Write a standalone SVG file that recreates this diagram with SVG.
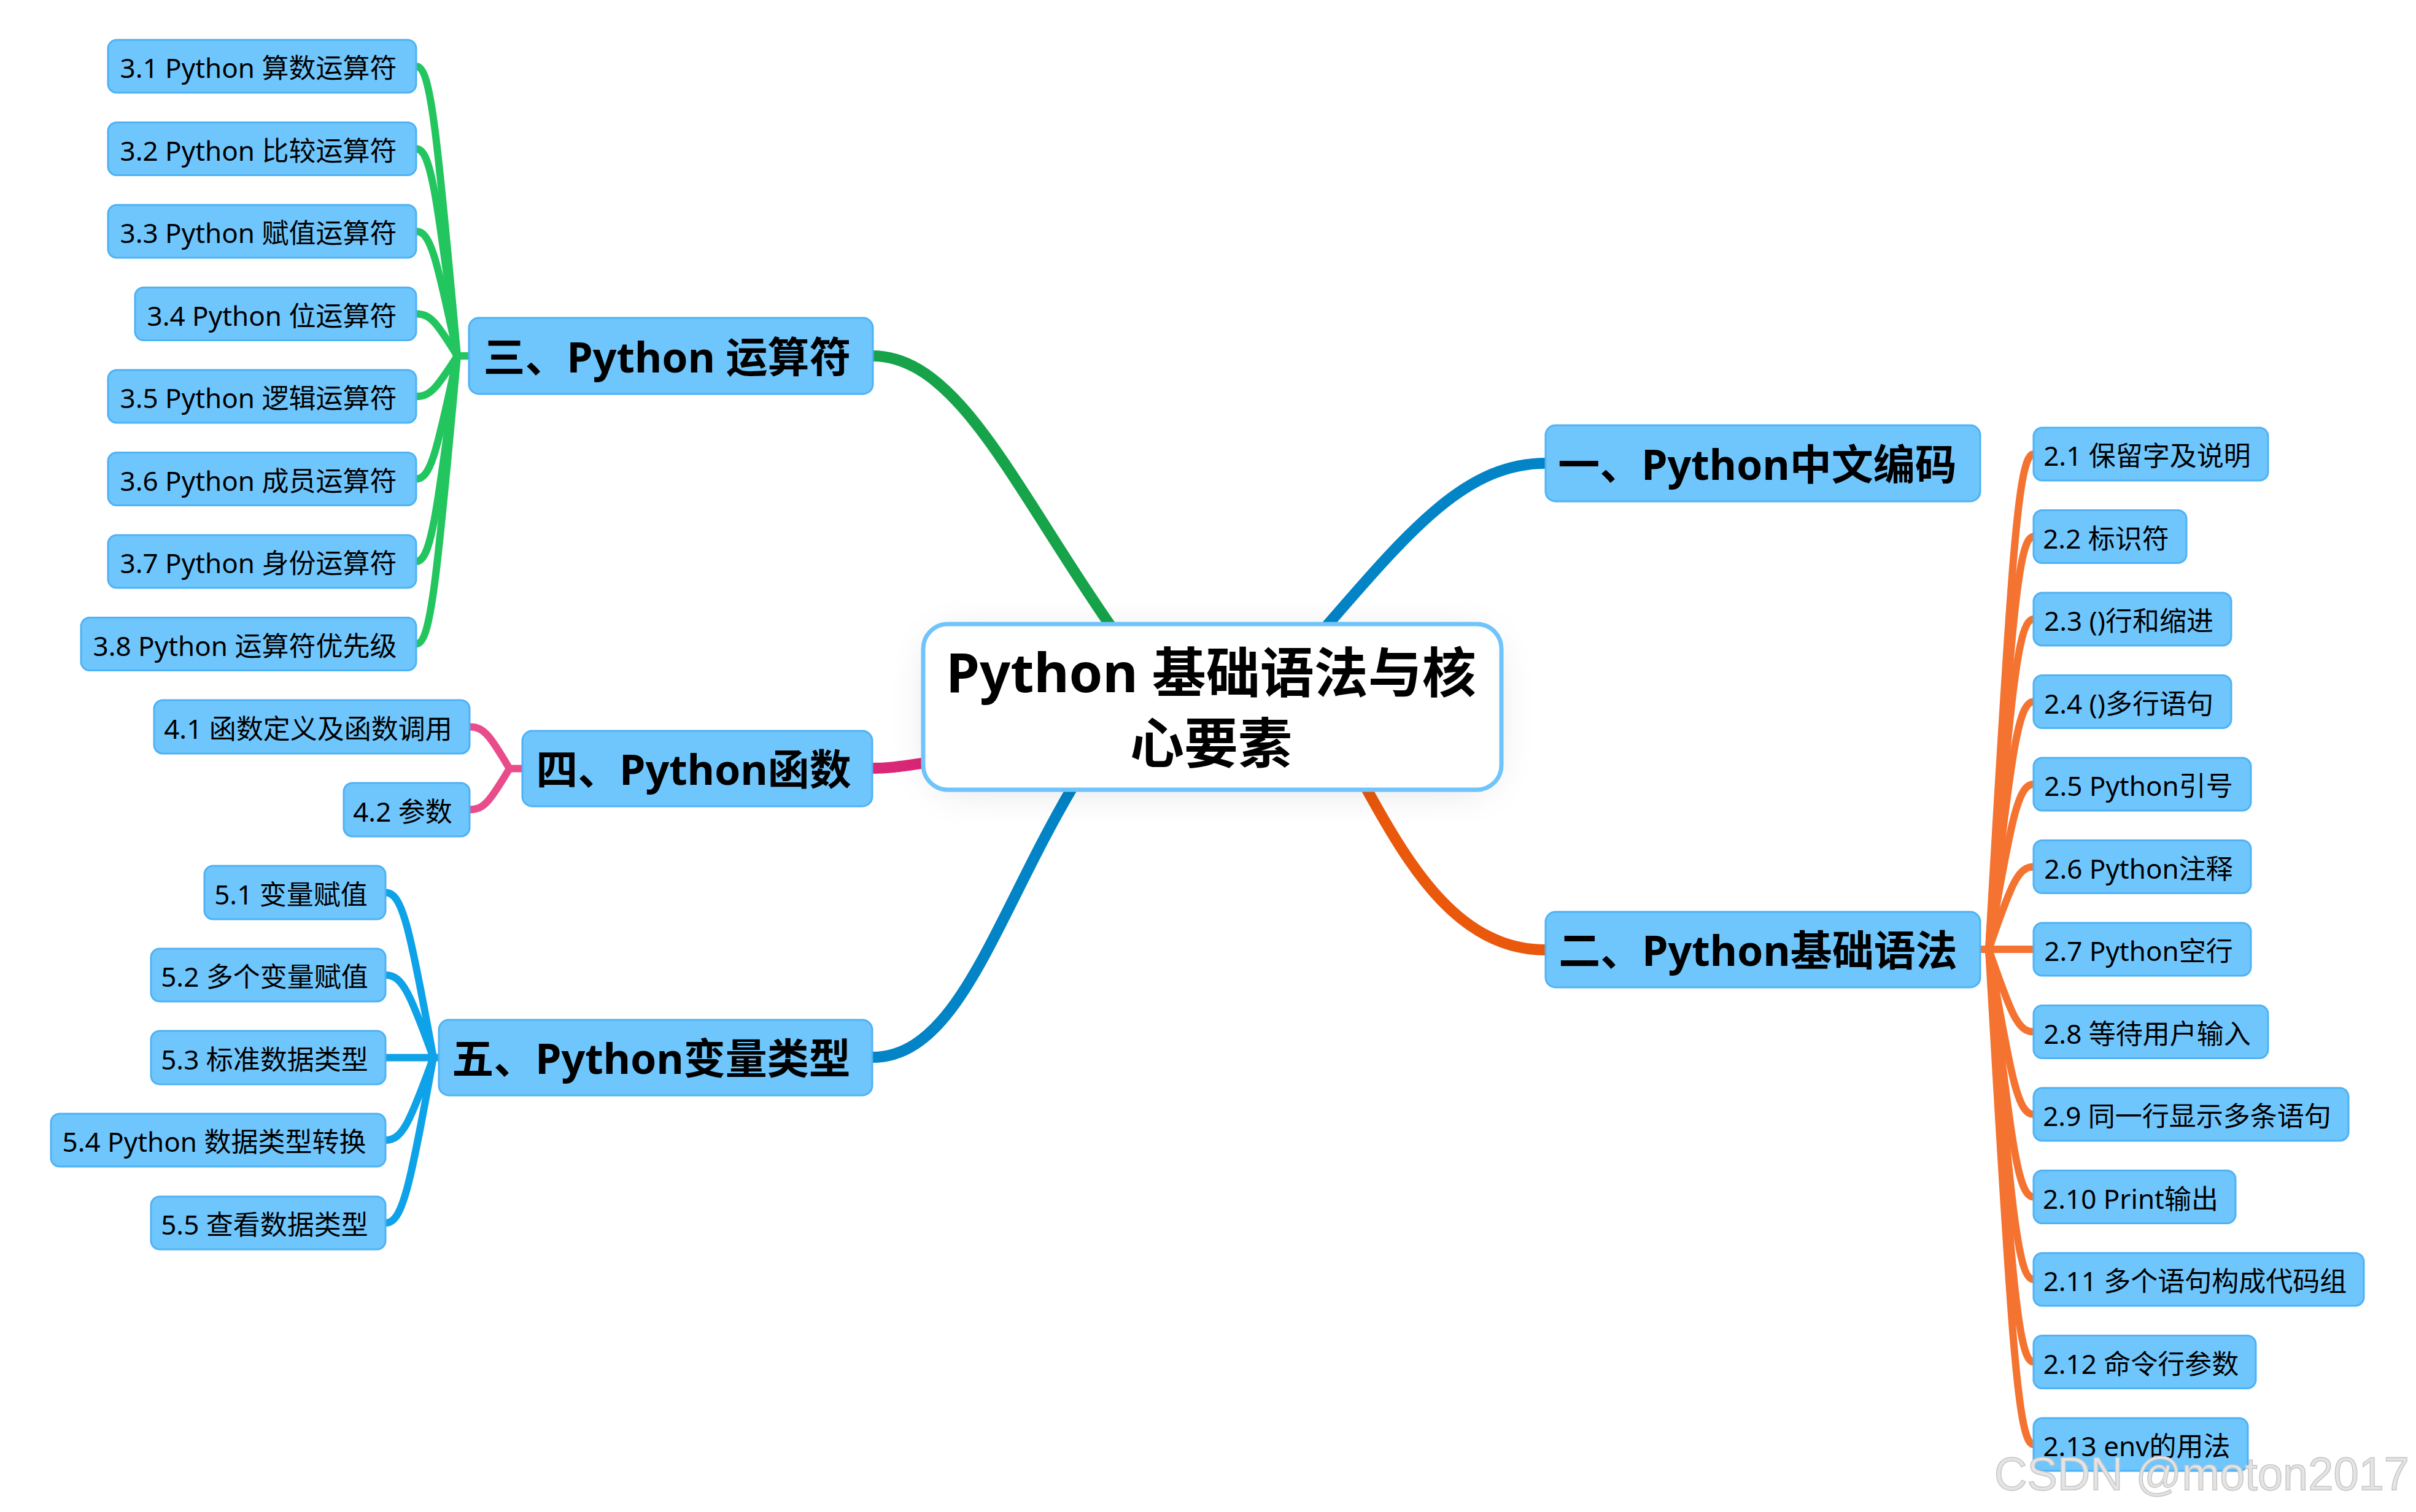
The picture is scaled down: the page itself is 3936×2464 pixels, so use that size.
<svg xmlns="http://www.w3.org/2000/svg" width="3936" height="2464" viewBox="0 0 3936 2464">
<defs>
<style>
.leaf rect{fill:#6FC6FD;stroke:#4FB2F4;stroke-width:3}
.leaf text{font-family:"Noto Sans","Noto Sans CJK SC",sans-serif;font-size:44px;fill:#000;text-anchor:middle}
.branch rect{fill:#6FC6FD;stroke:#4FB2F4;stroke-width:3}
.branch text{font-family:"Noto Sans","Noto Sans CJK SC",sans-serif;font-size:68px;font-weight:bold;fill:#000;text-anchor:middle}
.root rect.box{fill:#fff;stroke:#6EC4FB;stroke-width:7}
.root text{font-family:"Noto Sans","Noto Sans CJK SC",sans-serif;font-size:88px;font-weight:bold;fill:#000;text-anchor:middle}
.main{fill:none;stroke-width:18;stroke-linecap:round}
.sub{fill:none;stroke-width:12;stroke-linecap:round}
.g3{stroke:#22C55E}.g2{stroke:#F57330}.g4{stroke:#E94C8B}.g5{stroke:#0EA2E9}
.wm{font-family:"Liberation Sans",Arial,sans-serif;font-size:76px;fill:#e4e4e4;stroke:#c6c6c6;stroke-width:1.5}
</style>
<filter id="sh" x="-30%" y="-60%" width="160%" height="220%">
<feGaussianBlur stdDeviation="35"/>
</filter>
</defs>
<rect width="3936" height="2464" fill="#fff"/>

<g id="connectors">
<!-- main branches -->
<path class="main" stroke="#16A34A" d="M1421,580 C1560,580 1650,790 1808,1018 L1850,1080"/>
<path class="main" stroke="#0284C7" d="M2518,755 C2390,755 2300,860 2163,1018 L2120,1070"/>
<path class="main" stroke="#EA580C" d="M2518,1548 C2380,1548 2300,1420 2226,1285 L2200,1240"/>
<path class="main" stroke="#DB2777" d="M1421,1252 C1455,1252 1470,1248 1530,1240"/>
<path class="main" stroke="#0284C7" d="M1421,1723 C1560,1723 1620,1500 1745,1287 L1765,1250"/>
<!-- branch 3 children -->
<g class="sub g3">
<path d="M678,108 C701,108 711,202 745,580"/>
<path d="M678,242.5 C701,242.5 711,310 745,580"/>
<path d="M678,377 C701,377 711,418 745,580"/>
<path d="M678,511.5 C701,511.5 711,525 745,580"/>
<path d="M678,646 C701,646 711,633 745,580"/>
<path d="M678,780.5 C701,780.5 711,740 745,580"/>
<path d="M678,915 C701,915 711,848 745,580"/>
<path d="M678,1049.5 C701,1049.5 711,956 745,580"/>
<path d="M745,580 L764,580"/>
</g>
<!-- branch 2 children -->
<g class="sub g2">
<path d="M3313,740 C3288,740 3277,902 3240,1547"/>
<path d="M3313,874.5 C3288,874.5 3277,1009 3240,1547"/>
<path d="M3313,1009 C3288,1009 3277,1117 3240,1547"/>
<path d="M3313,1143.5 C3288,1143.5 3277,1224 3240,1547"/>
<path d="M3313,1278 C3288,1278 3277,1332 3240,1547"/>
<path d="M3313,1412.5 C3288,1412.5 3277,1439 3240,1547"/>
<path d="M3313,1547 L3226,1547"/>
<path d="M3313,1681.5 C3288,1681.5 3277,1655 3240,1547"/>
<path d="M3313,1816 C3288,1816 3277,1762 3240,1547"/>
<path d="M3313,1950.5 C3288,1950.5 3277,1870 3240,1547"/>
<path d="M3313,2085 C3288,2085 3277,1977 3240,1547"/>
<path d="M3313,2219.5 C3288,2219.5 3277,2085 3240,1547"/>
<path d="M3313,2354 C3288,2354 3277,2193 3240,1547"/>
</g>
<!-- branch 4 children -->
<g class="sub g4">
<path d="M765,1184.5 C788,1184.5 798,1198 830,1252.5"/>
<path d="M765,1319.5 C788,1319.5 798,1306 830,1252.5"/>
<path d="M830,1252.5 L851,1252.5"/>
</g>
<!-- branch 5 children -->
<g class="sub g5">
<path d="M628,1454.5 C655,1454.5 667,1508 706,1723.5"/>
<path d="M628,1589 C655,1589 667,1616 706,1723.5"/>
<path d="M628,1723.5 L715,1723.5"/>
<path d="M628,1858 C655,1858 667,1831 706,1723.5"/>
<path d="M628,1993 C655,1993 667,1939 706,1723.5"/>
</g>
</g>

<g id="root" class="root">
<rect x="1520" y="1040" width="910" height="240" rx="40" fill="#000" opacity="0.14" filter="url(#sh)"/>
<rect class="box" x="1504" y="1017" width="942" height="270" rx="40"/>
<text x="1973" y="1128">Python 基础语法与核</text>
<text x="1973" y="1243">心要素</text>
</g>

<g id="b1" class="branch"><rect x="2518" y="693" width="708" height="124" rx="16"/><text x="2863" y="782">一、Python中文编码</text></g>
<g id="b2" class="branch"><rect x="2518" y="1486" width="708" height="123" rx="16"/><text x="2864" y="1574">二、Python基础语法</text></g>
<g id="b3" class="branch"><rect x="764" y="518" width="658" height="124" rx="16"/><text x="1087" y="607">三、Python 运算符</text></g>
<g id="b4" class="branch"><rect x="851" y="1191" width="570" height="123" rx="16"/><text x="1130" y="1279">四、Python函数</text></g>
<g id="b5" class="branch"><rect x="715" y="1662" width="706" height="123" rx="16"/><text x="1061" y="1750">五、Python变量类型</text></g>

<g id="n31" class="leaf"><rect x="176" y="65" width="502" height="86" rx="14"/><text x="421" y="127">3.1 Python 算数运算符</text></g>
<g id="n32" class="leaf"><rect x="176" y="199.5" width="502" height="86" rx="14"/><text x="421" y="261.5">3.2 Python 比较运算符</text></g>
<g id="n33" class="leaf"><rect x="176" y="334" width="502" height="86" rx="14"/><text x="421" y="396">3.3 Python 赋值运算符</text></g>
<g id="n34" class="leaf"><rect x="220" y="468.5" width="458" height="86" rx="14"/><text x="443" y="530.5">3.4 Python 位运算符</text></g>
<g id="n35" class="leaf"><rect x="176" y="603" width="502" height="86" rx="14"/><text x="421" y="665">3.5 Python 逻辑运算符</text></g>
<g id="n36" class="leaf"><rect x="176" y="737.5" width="502" height="86" rx="14"/><text x="421" y="799.5">3.6 Python 成员运算符</text></g>
<g id="n37" class="leaf"><rect x="176" y="872" width="502" height="86" rx="14"/><text x="421" y="934">3.7 Python 身份运算符</text></g>
<g id="n38" class="leaf"><rect x="132" y="1006.5" width="546" height="86" rx="14"/><text x="399" y="1068.5">3.8 Python 运算符优先级</text></g>

<g id="n41" class="leaf"><rect x="251" y="1141" width="514" height="87" rx="14"/><text x="502" y="1203.5">4.1 函数定义及函数调用</text></g>
<g id="n42" class="leaf"><rect x="560" y="1276" width="205" height="87" rx="14"/><text x="656" y="1338.5">4.2 参数</text></g>

<g id="n51" class="leaf"><rect x="333" y="1411" width="295" height="87" rx="14"/><text x="474" y="1473.5">5.1 变量赋值</text></g>
<g id="n52" class="leaf"><rect x="246" y="1546" width="382" height="86" rx="14"/><text x="431" y="1608">5.2 多个变量赋值</text></g>
<g id="n53" class="leaf"><rect x="246" y="1680" width="382" height="87" rx="14"/><text x="431" y="1742.5">5.3 标准数据类型</text></g>
<g id="n54" class="leaf"><rect x="83" y="1815" width="545" height="86" rx="14"/><text x="349" y="1877">5.4 Python 数据类型转换</text></g>
<g id="n55" class="leaf"><rect x="246" y="1950" width="382" height="86" rx="14"/><text x="431" y="2012">5.5 查看数据类型</text></g>

<g id="n21" class="leaf"><rect x="3313" y="697" width="382" height="86" rx="14"/><text x="3498" y="759">2.1 保留字及说明</text></g>
<g id="n22" class="leaf"><rect x="3313" y="831.5" width="249" height="86" rx="14"/><text x="3431" y="893.5">2.2 标识符</text></g>
<g id="n23" class="leaf"><rect x="3313" y="966" width="322" height="86" rx="14"/><text x="3468" y="1028">2.3 ()行和缩进</text></g>
<g id="n24" class="leaf"><rect x="3313" y="1100.5" width="322" height="86" rx="14"/><text x="3468" y="1162.5">2.4 ()多行语句</text></g>
<g id="n25" class="leaf"><rect x="3313" y="1235" width="354" height="86" rx="14"/><text x="3484" y="1297">2.5 Python引号</text></g>
<g id="n26" class="leaf"><rect x="3313" y="1369.5" width="354" height="86" rx="14"/><text x="3484" y="1431.5">2.6 Python注释</text></g>
<g id="n27" class="leaf"><rect x="3313" y="1504" width="354" height="86" rx="14"/><text x="3484" y="1566">2.7 Python空行</text></g>
<g id="n28" class="leaf"><rect x="3313" y="1638.5" width="382" height="86" rx="14"/><text x="3498" y="1700.5">2.8 等待用户输入</text></g>
<g id="n29" class="leaf"><rect x="3313" y="1773" width="513" height="86" rx="14"/><text x="3563" y="1835">2.9 同一行显示多条语句</text></g>
<g id="n210" class="leaf"><rect x="3313" y="1907.5" width="329" height="86" rx="14"/><text x="3471" y="1969.5">2.10 Print输出</text></g>
<g id="n211" class="leaf"><rect x="3313" y="2042" width="538" height="86" rx="14"/><text x="3576" y="2104">2.11 多个语句构成代码组</text></g>
<g id="n212" class="leaf"><rect x="3313" y="2176.5" width="362" height="86" rx="14"/><text x="3488" y="2238.5">2.12 命令行参数</text></g>
<g id="n213" class="leaf"><rect x="3313" y="2311" width="349" height="86" rx="14"/><text x="3481" y="2373">2.13 env的用法</text></g>

<text class="wm" x="3249" y="2428" textLength="676" lengthAdjust="spacingAndGlyphs">CSDN @moton2017</text>
</svg>
